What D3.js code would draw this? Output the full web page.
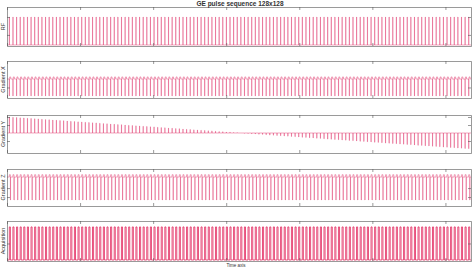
<html>
<head>
<script src="https://d3js.org/d3.v7.min.js"></script>
<style>
body { margin: 0; background: #fff; }
text { font-family: "Liberation Sans", Arial, sans-serif; fill: #333; }
</style>
</head>
<body>
<svg width="474" height="267"></svg>
<script>
// sequence timing (in TR units along the time axis)
var trStart = 0.63;
var TR = 0.99;
var xTicks = [0, 20, 40, 60, 80, 100, 120];

var channels = ["RF", "Gradient X", "Gradient Y", "Gradient Z", "Acquisition"];

// phase-encoding amplitude for each of the 128 TRs
var gyAmp = [1.00, 0.98, 0.97, 0.95, 0.94, 0.92, 0.91, 0.89, 0.88, 0.86, 0.84, 0.83, 0.81, 0.80, 0.78, 0.77,
  0.75, 0.73, 0.72, 0.70, 0.69, 0.67, 0.66, 0.64, 0.63, 0.61, 0.59, 0.58, 0.56, 0.55, 0.53, 0.52,
  0.50, 0.48, 0.47, 0.45, 0.44, 0.42, 0.41, 0.39, 0.38, 0.36, 0.34, 0.33, 0.31, 0.30, 0.28, 0.27,
  0.25, 0.23, 0.22, 0.20, 0.19, 0.17, 0.16, 0.14, 0.13, 0.11, 0.09, 0.08, 0.06, 0.05, 0.03, 0.02,
  0.00, -0.02, -0.03, -0.05, -0.06, -0.08, -0.09, -0.11, -0.13, -0.14, -0.16, -0.17, -0.19, -0.20, -0.22, -0.23,
  -0.25, -0.27, -0.28, -0.30, -0.31, -0.33, -0.34, -0.36, -0.38, -0.39, -0.41, -0.42, -0.44, -0.45, -0.47, -0.48,
  -0.50, -0.52, -0.53, -0.55, -0.56, -0.58, -0.59, -0.61, -0.63, -0.64, -0.66, -0.67, -0.69, -0.70, -0.72, -0.73,
  -0.75, -0.77, -0.78, -0.80, -0.81, -0.83, -0.84, -0.86, -0.88, -0.89, -0.91, -0.92, -0.94, -0.95, -0.97, -0.98];

// waveform of one TR for each channel: [time offset, amplitude]
var rfPulse = [[0, 0], [0, 1], [0.04, 1], [0.04, 0]];
var gxPulse = [[0, 0], [0, -1], [0.04, -1], [0.04, 0], [0.1, 0], [0.1, 0.12], [0.4, 0.12], [0.4, 0]];
var gyPulse = [[0, 0], [0, 1], [0.04, 1], [0.04, 0]];
var gzPulse = [[0, 0], [0, 0.1], [0.3, 0.1], [0.3, 0], [0.3, -1], [0.34, -1], [0.34, 0]];
var adcPulse = [[0, 0], [0, 1], [0.3, 1], [0.3, 0]];

var yDomains = [[-0.036, 1.357], [-1.12, 1.06], [-1.25, 1.125], [-1.26, 0.35], [-0.03, 1.18]];
var yTickVals = [[0.36, 1], [-0.5], [-0.5, 0.5, 1], [-0.48, -0.87], [0.5]];

var svg = d3.select("svg");
var panelTop = [7, 61, 115, 169, 221];
var panelBot = [46, 98, 153, 206, 261];
var x = d3.scaleLinear().domain([0, 127]).range([7, 471]);

function buildWave(shape, scaleFn) {
  var pts = [[0, 0]];
  for (var k = 0; k < gyAmp.length; k++) {
    var t = trStart + k * TR;
    var a = scaleFn ? scaleFn(k) : 1;
    shape.forEach(function(p) { pts.push([t + p[0], p[1] * a]); });
  }
  pts.push([127, 0]);
  return pts;
}

var waves = [
  buildWave(rfPulse),
  buildWave(gxPulse),
  buildWave(gyPulse, function(k) { return gyAmp[k]; }),
  buildWave(gzPulse),
  buildWave(adcPulse)
];

for (var i = 0; i < channels.length; i++) {
  var y = d3.scaleLinear().domain(yDomains[i]).range([panelBot[i], panelTop[i]]);
  var g = svg.append("g");

  var line = d3.line().x(function(d) { return x(d[0]); }).y(function(d) { return y(d[1]); });
  g.append("path")
    .attr("d", line(waves[i]))
    .attr("fill", "none")
    .attr("stroke", i == 4 ? "#e3285e" : "#e0366b")
    .attr("stroke-width", i == 4 ? 0.9 : 0.6)
    .attr("stroke-opacity", i == 4 ? 0.9 : 0.75);

  var ax = [
    [d3.axisBottom(x), "translate(0," + panelBot[i] + ")"],
    [d3.axisTop(x), "translate(0," + panelTop[i] + ")"]
  ];
  ax.forEach(function(a) {
    g.append("g").attr("transform", a[1])
      .call(a[0].tickValues(xTicks).tickSizeInner(-3).tickSizeOuter(0).tickFormat(""));
  });
  g.append("g").attr("transform", "translate(7,0)")
    .call(d3.axisLeft(y).tickValues(yTickVals[i]).tickSizeInner(-3).tickSizeOuter(0).tickFormat(""));
  g.append("g").attr("transform", "translate(471,0)")
    .call(d3.axisRight(y).tickValues(yTickVals[i]).tickSizeInner(-3).tickSizeOuter(0).tickFormat(""));

  svg.append("text").text(channels[i])
    .attr("transform", "translate(4.8," + ((panelTop[i] + panelBot[i]) / 2) + ") rotate(-90)")
    .attr("text-anchor", "middle")
    .style("font-size", "5.5px");
}

svg.selectAll(".domain, .tick line").attr("stroke", "#555").attr("stroke-width", 0.6);

svg.append("text").text("GE pulse sequence 128x128")
  .attr("x", 240).attr("y", 5.5)
  .attr("text-anchor", "middle")
  .style("font-size", "6.5px")
  .style("font-weight", "bold");

svg.append("text").text("Time axis")
  .attr("x", 236).attr("y", 266.5)
  .attr("text-anchor", "middle")
  .style("font-size", "4.5px");
</script>
</body>
</html>
